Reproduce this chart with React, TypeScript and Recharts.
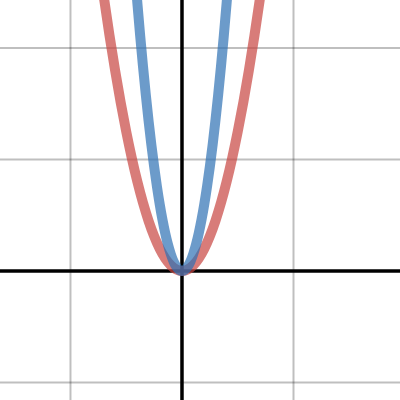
import React from "react";
import { LineChart, Line, XAxis, YAxis, ReferenceLine } from "recharts";

// Red curve (wider parabola) sample points
const redX = [-0.75, -0.7, -0.65, -0.6, -0.55, -0.5, -0.45, -0.4, -0.35, -0.3, -0.25, -0.2, -0.15, -0.1, -0.05, 0, 0.05, 0.1, 0.15, 0.2, 0.25, 0.3, 0.35, 0.4, 0.45, 0.5, 0.55, 0.6, 0.65, 0.7, 0.75];
const redY = [2.8125, 2.45, 2.1125, 1.8, 1.5125, 1.25, 1.0125, 0.8, 0.6125, 0.45, 0.3125, 0.2, 0.1125, 0.05, 0.0125, 0, 0.0125, 0.05, 0.1125, 0.2, 0.3125, 0.45, 0.6125, 0.8, 1.0125, 1.25, 1.5125, 1.8, 2.1125, 2.45, 2.8125];

// Blue curve (narrow parabola)
const blueX = [-0.45, -0.425, -0.4, -0.375, -0.35, -0.325, -0.3, -0.275, -0.25, -0.225, -0.2, -0.175, -0.15, -0.125, -0.1, -0.075, -0.05, -0.025, 0, 0.025, 0.05, 0.075, 0.1, 0.125, 0.15, 0.175, 0.2, 0.225, 0.25, 0.275, 0.3, 0.325, 0.35, 0.375, 0.4, 0.425, 0.45];
const blueY = [3.0375, 2.709, 2.4, 2.109, 1.8375, 1.584, 1.35, 1.134, 0.9375, 0.759, 0.6, 0.459, 0.3375, 0.234, 0.15, 0.084, 0.0375, 0.009, 0, 0.009, 0.0375, 0.084, 0.15, 0.234, 0.3375, 0.459, 0.6, 0.759, 0.9375, 1.134, 1.35, 1.584, 1.8375, 2.109, 2.4, 2.709, 3.0375];

const xDomain = [-1.632, 1.955];
const yDomain = [-1.157, 2.43];
const xGrid = [-1, 1];
const yGrid = [-1, 1, 2];

const redData = redX.map((x, i) => ({ x, y: redY[i] }));
const blueData = blueX.map((x, i) => ({ x, y: blueY[i] }));

export default function App() {
  return (
    <div style={{ position: "absolute", left: 0, top: 0, width: 400, height: 400, background: "#fff" }}>
      <LineChart width={400} height={400} margin={{ top: 0, right: 0, bottom: 0, left: 0 }}>
        <XAxis type="number" dataKey="x" domain={xDomain} allowDataOverflow hide />
        <YAxis type="number" dataKey="y" domain={yDomain} allowDataOverflow hide width={0} />
        {xGrid.map((v) => (
          <ReferenceLine key={"gx" + v} x={v} stroke="#000" strokeOpacity={0.25} strokeWidth={2} />
        ))}
        {yGrid.map((v) => (
          <ReferenceLine key={"gy" + v} y={v} stroke="#000" strokeOpacity={0.25} strokeWidth={2} />
        ))}
        <ReferenceLine x={0} stroke="#000" strokeWidth={3.5} />
        <ReferenceLine y={0} stroke="#000" strokeWidth={3.5} />
        <Line data={redData} dataKey="y" type="monotone" stroke="#c74440" strokeOpacity={0.7} strokeWidth={10} dot={false} isAnimationActive={false} />
        <Line data={blueData} dataKey="y" type="monotone" stroke="#2d70b3" strokeOpacity={0.7} strokeWidth={10} dot={false} isAnimationActive={false} />
      </LineChart>
    </div>
  );
}
